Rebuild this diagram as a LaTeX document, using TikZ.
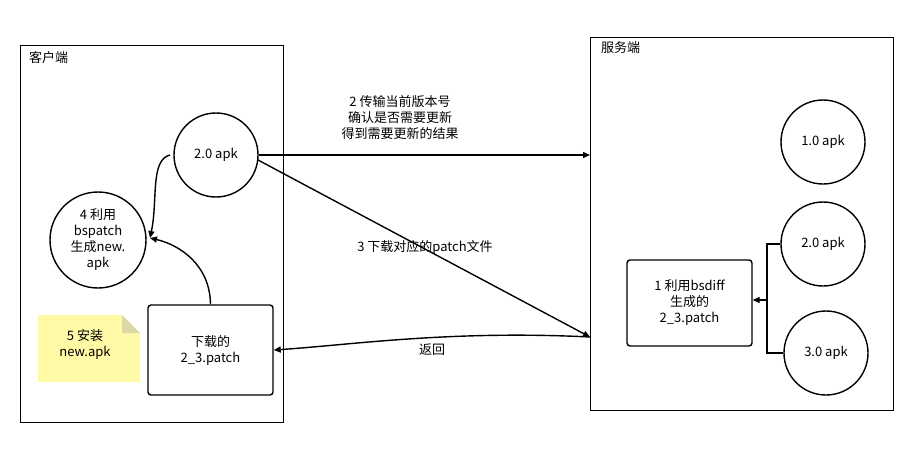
\documentclass[tikz,border=0pt]{standalone}
\usepackage{fontspec}
\setmainfont{Noto Sans CJK SC}
\usetikzlibrary{arrows.meta,shapes.misc}
\begin{document}
\begin{tikzpicture}[x=1pt,y=-1pt,
  line width=1.4pt,
  fnt/.style={font=\fontsize{13}{16}\selectfont},
  circ/.style={draw,circle,minimum size=84pt,inner sep=0pt,align=center,fnt},
  rbox/.style={draw,rounded corners=3pt,align=center,fnt},
  arr/.style={-{Triangle[length=7pt,width=6pt]}}]
\useasboundingbox (0,0) rectangle (914,448);
\node[draw,minimum width=263pt,minimum height=377pt,anchor=north west] (client) at (20,45) {};
\node[fnt,anchor=north west] (cl) at (25,47) {客户端};
\node[draw,minimum width=303pt,minimum height=373pt,anchor=north west] (server) at (590,37) {};
\node[fnt,anchor=north west] (sl) at (597,38) {服务端};
\node[circ] (c2) at (216,155) {2.0 apk};
\node[circ,minimum size=96pt] (c4) at (98,240) {4 利用\\bspatch\\生成new.\\apk};
\node[rbox,minimum width=125pt,minimum height=90pt] (dl) at (210.5,350) {下载的\\2\_3.patch};
\fill[yellow!35] (38,315) -- (122,315) -- (140,333) -- (140,382) -- (38,382) -- cycle;
\fill[yellow!60!black!40] (122,315) -- (140,333) -- (122,333) -- cycle;
\node[fnt,align=center] (note) at (85,345) {5 安装\\new.apk};
\node[circ] (s1) at (823,142) {1.0 apk};
\node[circ] (s2) at (823,244) {2.0 apk};
\node[circ] (s3) at (826,353) {3.0 apk};
\node[rbox,minimum width=125pt,minimum height=86pt] (bd) at (689.5,303) {1 利用bsdiff\\生成的\\2\_3.patch};
\coordinate (b1) at (767,244);
\coordinate (b2) at (767,353);
\coordinate (bm) at (767,300);
\draw (s2.west) -- (b1) -- (b2) -- (s3.west);
\draw[arr] (bm) -- (bd.east |- bm);
\coordinate (sa) at (590,155);
\coordinate (sb) at (590,337);
\coordinate (ca) at (258,160);
\draw[arr] (c2.east) -- (sa);
\node[fnt,align=center] (l2) at (400,118) {2 传输当前版本号\\确认是否需要更新\\得到需要更新的结果};
\draw[arr] (ca) -- (sb);
\node[fnt] (l3) at (425,247) {3 下载对应的patch文件};
\draw[arr] (sb) .. controls (450,330) and (350,345) .. (dl.east);
\node[fnt,fill=white,inner sep=1pt] (l4) at (432,350) {返回};
\draw[arr] (dl.north) .. controls (210,265) and (180,245) .. (150,238);
\draw[arr] (170,155) .. controls (150,160) and (158,200) .. (150,238);
\end{tikzpicture}
\end{document}
